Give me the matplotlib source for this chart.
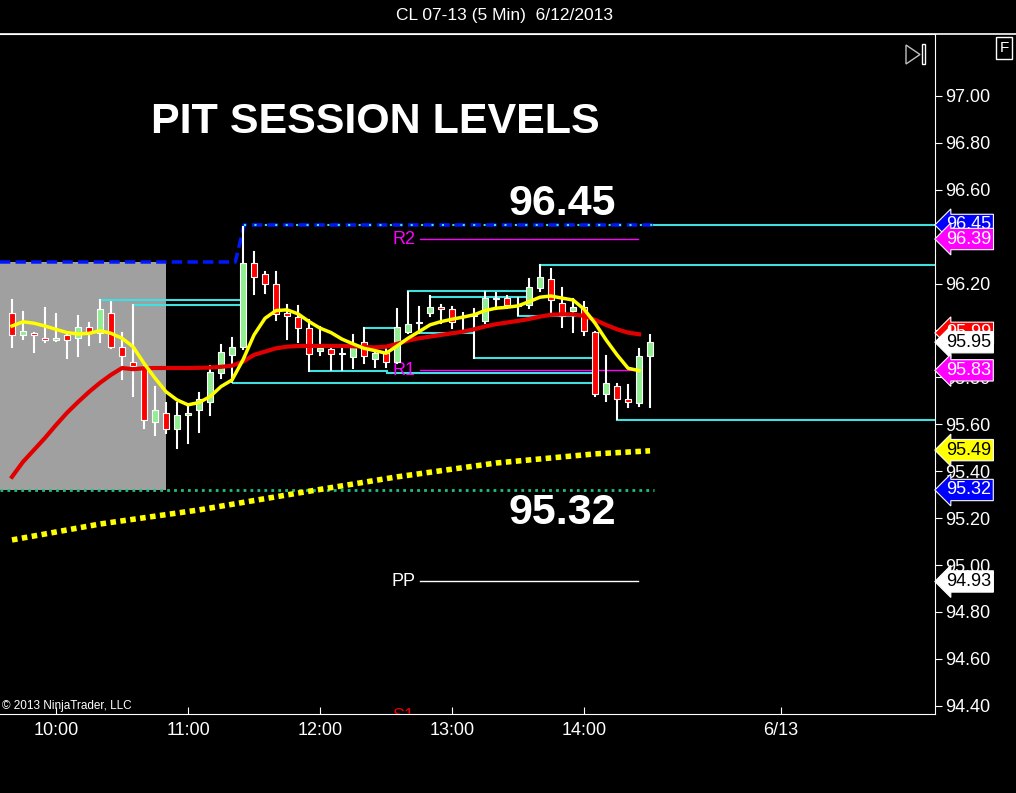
import matplotlib
matplotlib.use("Agg")
import matplotlib.pyplot as plt
from matplotlib.patches import Rectangle, Polygon
import numpy as np

# ---- data ----
bar_idx = list(range(-4, 55))  # 5-min bars, 0 = 10:00
opens = [96.076,95.981,95.988,95.968,95.960,95.981,95.967,96.017,95.991,96.076,95.929,95.867,95.846,95.609,95.647,95.579,
         95.640,95.661,95.693,95.818,95.896,95.929,96.289,96.240,96.197,96.076,96.059,96.010,95.911,95.920,95.899,95.889,
         95.949,95.878,95.906,95.867,95.995,96.031,96.076,96.099,96.091,96.057,96.063,96.042,96.136,96.138,96.103,96.109,
         96.180,96.219,96.119,96.081,96.099,95.995,95.730,95.765,95.707,95.690,95.892]
closes = [95.981,95.998,95.980,95.960,95.968,95.960,96.017,95.988,96.091,95.929,95.892,95.849,95.619,95.659,95.579,95.640,
          95.650,95.707,95.825,95.907,95.929,96.289,96.227,96.197,96.070,96.060,96.010,95.900,95.927,95.899,95.900,95.932,
          95.892,95.906,95.867,96.017,96.027,96.033,96.099,96.091,96.038,96.060,96.067,96.138,96.138,96.109,96.105,96.187,
          96.227,96.130,96.062,96.099,95.998,95.730,95.778,95.707,95.693,95.892,95.950]
highs = [96.130,96.080,95.990,96.096,96.071,95.981,96.062,96.031,96.130,96.123,95.988,96.109,95.850,95.761,95.690,95.690,
         95.678,95.733,95.849,95.938,95.970,96.443,96.336,96.251,96.251,96.109,96.105,96.045,96.017,95.924,95.938,95.981,
         96.010,95.924,95.920,96.091,96.165,96.099,96.147,96.109,96.099,96.076,96.091,96.165,96.161,96.147,96.138,96.218,
         96.280,96.261,96.180,96.133,96.123,95.995,95.892,95.770,95.768,95.920,95.981]
lows = [95.931,95.963,95.910,95.953,95.957,95.882,95.892,95.938,95.953,95.924,95.792,95.721,95.583,95.555,95.562,95.501,
        95.522,95.569,95.640,95.797,95.782,95.920,96.156,96.161,96.045,95.963,95.953,95.829,95.896,95.832,95.832,95.839,
        95.863,95.846,95.846,95.860,95.990,95.991,96.062,96.034,96.010,96.000,95.882,96.030,96.091,96.099,96.067,96.095,
        96.170,96.080,96.014,95.995,95.981,95.720,95.701,95.622,95.673,95.680,95.673]
fast_ma = [96.019,96.037,96.031,96.019,96.005,95.991,95.985,95.988,95.999,95.988,95.967,95.931,95.860,95.797,95.739,95.704,
           95.683,95.693,95.718,95.761,95.789,95.875,95.981,96.052,96.085,96.088,96.071,96.038,96.010,95.991,95.963,95.943,
           95.924,95.914,95.903,95.934,95.967,95.995,96.024,96.038,96.048,96.057,96.067,96.085,96.095,96.099,96.105,96.123,
           96.142,96.147,96.138,96.130,96.091,96.031,95.960,95.896,95.839,95.829]
slow_ma = [95.376,95.440,95.491,95.542,95.597,95.649,95.695,95.738,95.777,95.811,95.840,95.835,95.839,95.840,95.840,95.840,
           95.840,95.841,95.842,95.845,95.850,95.867,95.896,95.910,95.924,95.931,95.934,95.934,95.934,95.934,95.934,95.933,
           95.929,95.928,95.931,95.943,95.957,95.967,95.974,95.981,95.988,95.995,96.005,96.017,96.027,96.034,96.041,96.049,
           96.059,96.067,96.069,96.069,96.062,96.045,96.024,96.005,95.991,95.984]
long_ma_x = [-4, 4, 13, 22, 31, 40, 49, 54]
long_ma = [95.107, 95.175, 95.235, 95.307, 95.376, 95.435, 95.474, 95.487]

# cyan swing levels: (price, x_start, x_end) in bar units
cyan_levels = [(96.13, 4.0, 17.1), (96.109, 7.0, 17.1), (96.28, 44.0, 79.9), (96.17, 32.0, 43.0),
               (96.143, 34.0, 43.0), (96.01, 28.0, 31.0), (95.988, 33.0, 37.9), (95.882, 38.0, 49.0),
               (95.828, 23.1, 30.1), (95.818, 30.1, 49.0), (95.778, 16.1, 49.0), (95.62, 51.0, 79.9),
               (96.06, 42.0, 47.6)]
pivots = [("R2", 96.39, "#ff00ff"), ("R1", 95.83, "#ff00ff"), ("PP", 94.93, "white"), ("S1", 94.355, "#e00000")]
pit_high, pit_low = 96.45, 95.32
prev_level = 96.292

tags = [(96.45, "#0000ff", "white"), (96.39, "#ff00ff", "white"), (95.99, "#ff0000", "white"),
        (95.95, "white", "black"), (95.83, "#ff00ff", "white"), (95.49, "#ffff00", "black"),
        (95.32, "#0000ff", "white"), (94.93, "white", "black")]
yticks = [97.0, 96.8, 96.6, 96.4, 96.2, 96.0, 95.8, 95.6, 95.4, 95.2, 95.0, 94.8, 94.6, 94.4]
xtick_pos = [0, 12, 24, 36, 48, 65.9]
xtick_lab = ["10:00", "11:00", "12:00", "13:00", "14:00", "6/13"]

# ---- figure ----
fig = plt.figure(figsize=(10.16, 7.93), dpi=100, facecolor="black")
ax = fig.add_axes([0, 79/793, 935/1016, 680/793], facecolor="black")
ax.set_xlim(-5.09, 79.9)
ax.set_ylim(94.365, 97.264)

# gray pit-premarket box
ax.add_patch(Rectangle((-5.2, pit_low), 15.2, prev_level - pit_low, facecolor="#a0a0a0", edgecolor="none", zorder=0))

# blue dashed high line
ax.plot([-5.1, 16.3, 17.1, 54.4], [prev_level, prev_level, pit_high, pit_high], color="#0018ff", lw=2.5,
        ls=(0, (3, 1.5)), zorder=2)
ax.plot([17.1, 54.4], [pit_high, pit_high], color="#40e0e0", lw=1.5, ls=(0, (1, 4)), zorder=2)
ax.plot([54.4, 79.9], [pit_high, pit_high], color="#40e0e0", lw=1.5, zorder=2)
# green dotted low
ax.plot([-5.1, 54.4], [pit_low, pit_low], color="#20c080", lw=2, ls=(0, (1, 1.5)), zorder=2)

for p, a, b in cyan_levels:
    ax.plot([a, b], [p, p], color="#40e0e0", lw=1.5, zorder=2)

for name, p, c in pivots:
    if name != "S1":
        ax.plot([33.1, 52.9], [p, p], color=c, lw=1, zorder=2)
    ax.text(31.6, p, name, color=c, fontsize=13, ha="center", va="center", zorder=3, clip_on=True,
            family="Liberation Sans")

# long MA
ax.plot(long_ma_x, long_ma, color="#ffff00", lw=4, ls=(0, (1, 0.8)), zorder=3)

# candles
w = 0.62
for k, o, c, h, l in zip(bar_idx, opens, closes, highs, lows):
    ax.plot([k, k], [l, h], color="white", lw=1.5, zorder=4)
    col = "#90ee90" if c >= o else "#ff0000"
    lo, hi = min(o, c), max(o, c)
    ax.add_patch(Rectangle((k - w / 2, lo), w, max(hi - lo, 0.004), facecolor=col, edgecolor="white",
                           lw=0.8, zorder=5))

ax.plot(bar_idx[:len(slow_ma)], slow_ma, color="#e00000", lw=3, zorder=6)
ax.plot(bar_idx[:len(fast_ma)], fast_ma, color="#ffff00", lw=2.5, zorder=7)

# big texts
ax.text(29.0, 96.89, "PIT SESSION LEVELS", color="white", fontsize=31, fontweight="bold", ha="center",
        va="center", family="Liberation Sans", zorder=8)
ax.text(46.0, pit_high + 0.09, "96.45", color="white", fontsize=31, fontweight="bold", ha="center",
        va="center", family="Liberation Sans", zorder=8)
ax.text(46.0, pit_low - 0.097, "95.32", color="white", fontsize=31, fontweight="bold", ha="center",
        va="center", family="Liberation Sans", zorder=8)
ax.text(0.002, 0.008, "© 2013 NinjaTrader, LLC", color="white", fontsize=8.5, transform=ax.transAxes,
        family="Liberation Sans", zorder=8)

# axes styling
ax.spines["left"].set_visible(False)
ax.spines["right"].set_color("white")
ax.spines["bottom"].set_color("white")
ax.spines["top"].set_color("white")
ax.yaxis.tick_right()
ax.set_yticks(yticks)
ax.set_yticklabels([f"{v:.2f}" for v in yticks], family="Liberation Sans")
ax.set_xticks(xtick_pos)
ax.set_xticklabels(xtick_lab, family="Liberation Sans")
ax.tick_params(axis="y", colors="white", labelsize=13, length=5, pad=2)
ax.tick_params(axis="x", colors="white", labelsize=13, length=5, pad=6, direction="in")
ax.tick_params(axis="x", which="both", top=False)

# price tags on the right axis
for p, bg, fg in tags:
    ax.annotate(f"{p:.2f}", xy=(1.0, p), xycoords=("axes fraction", "data"), xytext=(8, 0),
                textcoords="offset points", color=fg, fontsize=13, va="center", ha="left",
                family="Liberation Sans", annotation_clip=False, zorder=10,
                bbox=dict(boxstyle="larrow,pad=0.12", fc=bg, ec="white", lw=0.8))

# title and top line
fig.text(0.497, 0.981, "CL 07-13 (5 Min)  6/12/2013", color="white", fontsize=12.5, ha="center",
         va="center", family="Liberation Sans")
fig.add_artist(plt.Line2D([0, 1], [1 - 34 / 793, 1 - 34 / 793], color="white", lw=1.2, transform=fig.transFigure))
fig.text(1004 / 1016, 1 - 48 / 793, "F", color="white", fontsize=11, ha="center", va="center",
         family="Liberation Sans", bbox=dict(boxstyle="square,pad=0.25", fc="black", ec="white", lw=1))
fig.add_artist(Polygon([[906 / 1016, 1 - 45 / 793], [906 / 1016, 1 - 64 / 793], [920 / 1016, 1 - 54.5 / 793]],
                       closed=True, fill=False, ec="#c0c0c0", lw=1, transform=fig.transFigure))
fig.add_artist(Rectangle((922 / 1016, 1 - 64 / 793), 3 / 1016, 20 / 793, fill=False, ec="white", lw=1,
                         transform=fig.transFigure))

fig.savefig("out.png", dpi=100, facecolor="black")
